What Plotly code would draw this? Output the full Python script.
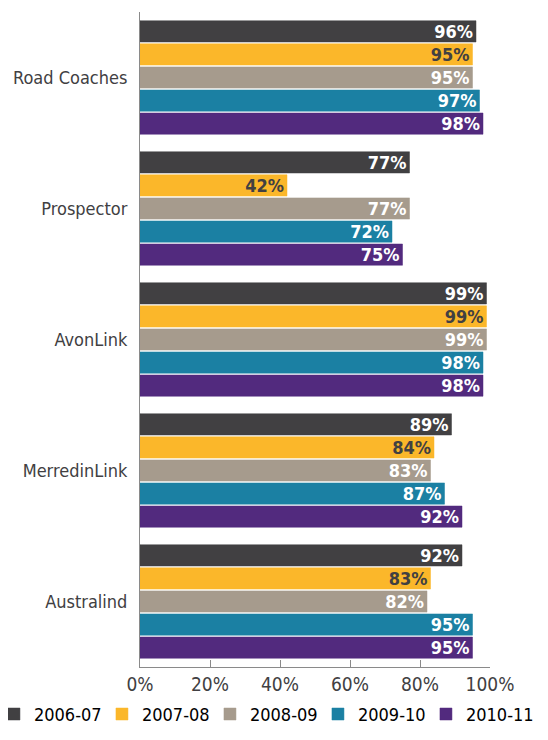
import plotly.graph_objects as go

categories = ["Road Coaches", "Prospector", "AvonLink", "MerredinLink", "Australind"]
seasons = ["2006-07", "2007-08", "2008-09", "2009-10", "2010-11"]

v_2006 = [96, 77, 99, 89, 92]
v_2007 = [95, 42, 99, 84, 83]
v_2008 = [95, 77, 99, 83, 82]
v_2009 = [97, 72, 98, 87, 95]
v_2010 = [98, 75, 98, 92, 95]

values = [v_2006, v_2007, v_2008, v_2009, v_2010]
colors = ["#414042", "#FBB72A", "#A69B8D", "#1B80A3", "#522A7E"]
text_colors = ["white", "#414042", "white", "white", "white"]

font_family = "Liberation Sans Narrow, DejaVu Sans Condensed, Arial Narrow, sans-serif"

W, H = 540, 732  # page body has an 8px margin, so the figure is a bit smaller than the window

fig = go.Figure()

for season, vals, col, tcol in zip(seasons, values, colors, text_colors):
    fig.add_trace(go.Bar(
        y=categories,
        x=vals,
        name=season,
        orientation='h',
        marker=dict(color=col, line=dict(color=col, width=0.5)),
        text=[f"{v}%" for v in vals],
        textposition='inside',
        insidetextanchor='end',
        constraintext='none',
        textfont=dict(family=font_family, size=18, color=tcol, weight='bold'),
        hoverinfo='skip'
    ))

# zero side margins + axis domain, so the legend may use the full width on one row
fig.update_layout(
    width=W,
    height=H,
    barmode='group',
    bargap=0.12,
    bargroupgap=0.08,
    plot_bgcolor='white',
    paper_bgcolor='white',
    margin=dict(l=0, r=0, t=4, b=73, autoexpand=False),
    font=dict(family=font_family, color='#414042'),
    showlegend=True,
    legend=dict(
        orientation='h',
        x=-0.026, xanchor='left',
        y=-0.044, yanchor='top',
        font=dict(size=18, color='black', family=font_family),
        traceorder='normal',
        entrywidth=63,
        itemwidth=30,
    ),
    xaxis=dict(
        domain=[132 / W, 482 / W],
        range=[0, 100],
        tickvals=[0, 20, 40, 60, 80, 100],
        ticktext=["0%", "20%", "40%", "60%", "80%", "100%"],
        showgrid=False,
        zeroline=False,
        showline=True,
        linecolor='#8a8a8a',
        linewidth=1,
        ticks='inside',
        ticklen=7,
        tickcolor='#8a8a8a',
        tickfont=dict(size=19, color='#414042'),
        fixedrange=True,
    ),
    yaxis=dict(
        autorange='reversed',
        showgrid=False,
        showline=True,
        linecolor='#8a8a8a',
        linewidth=1,
        ticks='',
        ticklabelstandoff=8,
        tickfont=dict(size=18, color='#414042'),
        fixedrange=True,
    ),
)

fig.write_html("out.html")
